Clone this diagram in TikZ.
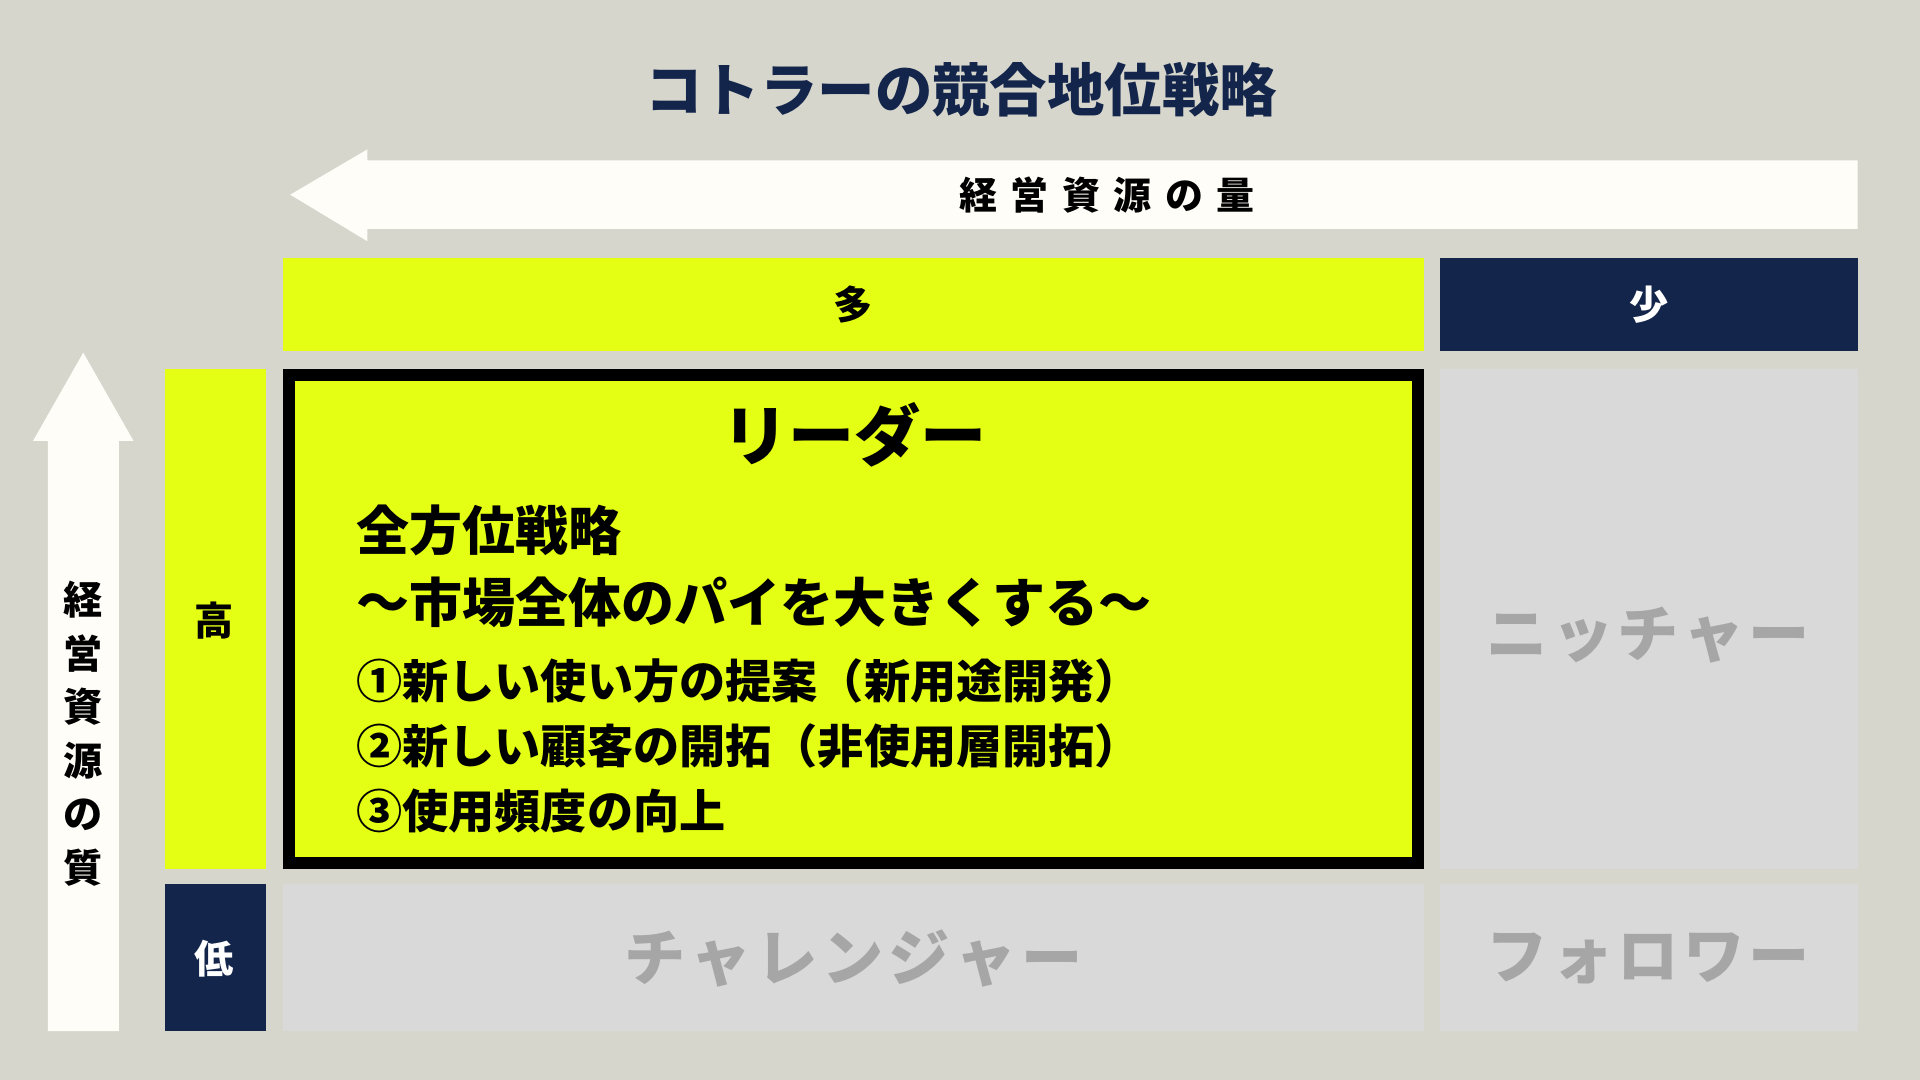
\documentclass[tikz,border=0pt]{standalone}
\usepackage{fontspec}
\newfontfamily\jp{Noto Sans CJK JP}
\definecolor{bgc}{HTML}{D6D6CC}
\definecolor{arrw}{HTML}{FFFDF8}
\definecolor{yel}{HTML}{E4FF14}
\definecolor{navy}{HTML}{14254B}
\definecolor{cellgray}{HTML}{D9D9D9}
\definecolor{txtgray}{HTML}{A6A6A6}
\tikzset{
  cell/.style={draw=none, inner sep=0pt, outer sep=0pt, anchor=center},
  lab/.style={inner sep=0pt, outer sep=0pt, font=\jp\bfseries\fontsize{#1}{#1}\selectfont},
  lab/.default=32,
  graylab/.style={inner sep=0pt, text=txtgray, font=\jp\bfseries\fontsize{50}{50}\selectfont},
}
\newcommand{\gapc}[1]{\hspace{#1}}
\begin{document}
\begin{tikzpicture}[x=1pt,y=-1pt]
\useasboundingbox (0,0) rectangle (1568,882);
\fill[bgc] (0,0) rectangle (1568,882);

% title
\node[lab=46.9, text=navy] (title) at (785,73) {コトラーの競合地位戦略};

% horizontal arrow
\fill[arrw] (1517,131) -- (300,131) -- (300,122) -- (237,159) -- (300,197) -- (300,187) -- (1517,187) -- cycle;
\node[lab=31, text=black] (qty) at (904,159) {経\gapc{11pt}営\gapc{11pt}資\gapc{11pt}源\gapc{11pt}の\gapc{11pt}量};

% vertical arrow
\fill[arrw] (39,842) -- (39,360) -- (27,360) -- (68,288) -- (109,360) -- (97,360) -- (97,842) -- cycle;
\foreach \c [count=\i from 0] in {経,営,資,源,の,質}{
  \node[lab=32, text=black] (v\i) at (68,489.5+43.9*\i) {\c};
}

% header cells
\node[cell, fill=yel, minimum width=932pt, minimum height=76pt] (many) at (697,249) {};
\node[lab=32, text=black] (manyt) at (many.center) {多};
\node[cell, fill=navy, minimum width=341pt, minimum height=76pt] (few) at (1346.5,249) {};
\node[lab=32, text=white] (fewt) at (few.center) {少};

\node[cell, fill=yel, minimum width=82pt, minimum height=409pt] (high) at (176,505.5) {};
\node[lab=32, text=black] (hight) at (175,507) {高};
\node[cell, fill=navy, minimum width=82pt, minimum height=120pt] (low) at (176,782) {};
\node[lab=32, text=white] (lowt) at (175,783) {低};

% leader
\node[cell, fill=yel, draw=black, line width=10pt, minimum width=922pt, minimum height=399pt] (leader) at (697,505.5) {};
\node[lab=54, text=black] (leadert) at (698,355) {リーダー};
\node[lab=43.3, text=black, anchor=west] (l1) at (291,433) {全方位戦略};
\node[lab=43.3, text=black, anchor=west] (l2) at (291,492) {～市場全体のパイを大きくする～};
\node[lab=37.7, text=black, anchor=west] (l3) at (291,556) {①新しい使い方の提案（新用途開発）};
\node[lab=37.7, text=black, anchor=west] (l4) at (291,609) {②新しい顧客の開拓（非使用層開拓）};
\node[lab=37.7, text=black, anchor=west] (l5) at (291,662) {③使用頻度の向上};

% gray cells
\node[cell, fill=cellgray, minimum width=341pt, minimum height=409pt] (niche) at (1346.5,505.5) {};
\node[graylab] (nichet) at (1346,519) {ニ\gapc{3.5pt}ッ\gapc{3.5pt}チ\gapc{3.5pt}ャ\gapc{3.5pt}ー};
\node[cell, fill=cellgray, minimum width=932pt, minimum height=120pt] (chal) at (697,782) {};
\node[graylab] (chalt) at (697,783) {チ\gapc{4pt}ャ\gapc{4pt}レ\gapc{4pt}ン\gapc{4pt}ジ\gapc{4pt}ャ\gapc{4pt}ー};
\node[cell, fill=cellgray, minimum width=341pt, minimum height=120pt] (follow) at (1346.5,782) {};
\node[graylab] (followt) at (1346,783) {フ\gapc{3.5pt}ォ\gapc{3.5pt}ロ\gapc{3.5pt}ワ\gapc{3.5pt}ー};
\end{tikzpicture}
\end{document}
